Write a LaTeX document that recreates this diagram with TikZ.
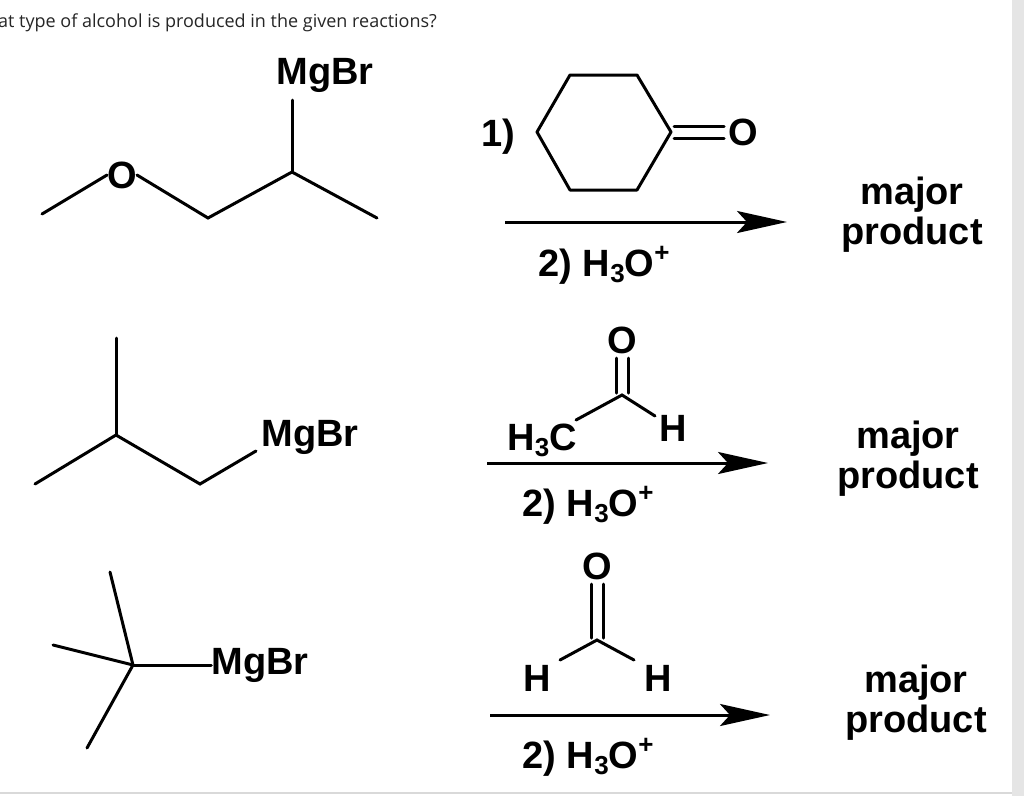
\documentclass[tikz,border=0pt]{standalone}
\usepackage{fontspec}
\setmainfont{Liberation Sans}
\newfontfamily\titlefont{Open Sans}
\usetikzlibrary{arrows.meta}
\newcommand{\sbt}[1]{\raisebox{-0.3ex}{\fontsize{26}{28}\selectfont #1}}
\newcommand{\spt}[1]{\raisebox{0.75ex}{\fontsize{26}{28}\selectfont #1}}
\begin{document}
\begin{tikzpicture}[x=1pt,y=-1pt,
  bond/.style={line width=3pt,line cap=round},
  lbl/.style={font=\fontsize{38}{40}\selectfont\bfseries,inner sep=0pt},
  prod/.style={font=\fontsize{38}{40}\selectfont\bfseries,align=center,inner sep=0pt},
  rxn/.style={line width=3pt,-{Stealth[length=50pt,width=22pt,inset=10pt]}}]
\useasboundingbox (0,0) rectangle (1024,796);
\fill[white] (0,0) rectangle (1024,796);
\fill[black!10] (1012,0) rectangle (1024,796);
\draw[black!15,line width=2pt] (0,793) -- (1012,793);
\node[anchor=west,inner sep=0pt,text=black!85,font=\titlefont\fontsize{18}{20}\selectfont] (title) at (-2,23) {at type of alcohol is produced in the given reactions?};
% molecule 1
\coordinate (a1) at (42,214); \node[lbl] (o1) at (122,175) {O};
\coordinate (a2) at (208,218); \coordinate (a3) at (292,172); \coordinate (a4) at (377,218);
\coordinate (a5) at (292,100); \node[lbl] (mg1) at (325,75) {MgBr};
\draw[bond] (a1) -- (o1.west); \draw[bond] (o1.east) -- (a2) -- (a3) -- (a4); \draw[bond] (a3) -- (a5);
% reagent 1
\node[lbl] (r1) at (498,137) {1)};
\draw[bond,line join=round] (537,132) -- (570,75) -- (637,75) -- (671,132) -- (637,190) -- (570,190) -- cycle;
\node[lbl] (o2) at (743,132) {O};
\draw[bond] (674,126) -- (724,126); \draw[bond] (674,138) -- (724,138);
\coordinate (s1) at (505,222); \coordinate (e1) at (787,222);
\draw[rxn] (s1) -- (e1);
\node[lbl] (h1) at (604,265) {2) H\sbt{3}O\spt{+}};
\node[prod] (p1) at (912,215) {major\\product};
% molecule 2
\coordinate (b1) at (116,338); \coordinate (b2) at (116,435); \coordinate (b3) at (35,484);
\coordinate (b4) at (200,484); \coordinate (b5) at (256,451);
\node[lbl] (mg2) at (310,437) {MgBr};
\draw[bond] (b1) -- (b2); \draw[bond] (b3) -- (b2) -- (b4) -- (b5);
\node[lbl] (h3c) at (542,440) {H\sbt{3}C};
\coordinate (c2) at (622,395);
\node[lbl] (o3) at (622,340) {O};
\node[lbl] (hh2) at (673,428) {H};
\draw[bond] (576,420) -- (c2) -- (655,416);
\draw[bond] (616,393) -- (616,358); \draw[bond] (628,393) -- (628,358);
\draw[rxn] (487,463) -- (768,463);
\node[lbl] (h2) at (588,505) {2) H\sbt{3}O\spt{+}};
\node[prod] (p2) at (908,459) {major\\product};
% molecule 3
\coordinate (t0) at (133,665);
\draw[bond] (110,572) -- (t0); \draw[bond] (53,645) -- (t0); \draw[bond] (t0) -- (87,748);
\node[lbl] (mg3) at (260,665) {MgBr};
\draw[bond] (t0) -- (mg3.west);
\node[lbl] (o4) at (597,566) {O};
\coordinate (c3) at (597,640);
\draw[bond] (591,638) -- (591,584); \draw[bond] (603,638) -- (603,584);
\draw[bond] (560,660) -- (c3) -- (634,660);
\node[lbl] (ha) at (537,678) {H}; \node[lbl] (hb) at (658,678) {H};
\draw[rxn] (490,715) -- (770,715);
\node[lbl] (h4) at (588,757) {2) H\sbt{3}O\spt{+}};
\node[prod] (p3) at (916,703) {major\\product};
\end{tikzpicture}
\end{document}
